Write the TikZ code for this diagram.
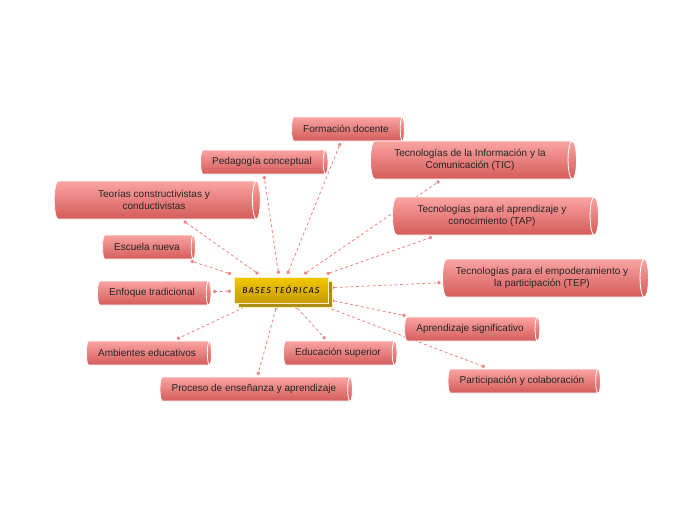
\documentclass[tikz,border=0pt]{standalone}
\usepackage{fontspec}
\setmainfont{Liberation Sans}
\newfontfamily\titlefont[LetterSpace=14]{Fira Sans}
\usetikzlibrary{shapes.geometric,shadows,backgrounds,arrows.meta}

\definecolor{tubetop}{RGB}{250,164,162}
\definecolor{tubebottom}{RGB}{212,92,90}
\definecolor{linkred}{RGB}{242,128,128}
\definecolor{goldtop}{RGB}{244,200,0}
\definecolor{goldbottom}{RGB}{198,156,0}
\definecolor{goldshadow}{RGB}{172,142,18}
\definecolor{cream}{RGB}{250,242,190}

\tikzset{
  topic/.style={cylinder, shape aspect=0.3, draw=white, line width=0.8pt,
    top color=tubetop, bottom color=tubebottom, minimum width=24pt,
    inner xsep=11pt, outer sep=2pt, text=black!85,
    font=\fontsize{10}{12}\selectfont},
  widetopic/.style={topic, minimum width=38pt, minimum height=206pt, align=center},
  root/.style={rectangle, draw=cream, line width=0.8pt, top color=goldtop,
    bottom color=goldbottom, minimum width=94pt, minimum height=26pt, outer sep=3pt,
    drop shadow={shadow xshift=4pt, shadow yshift=-4pt, fill=goldshadow,
      draw=cream, opacity=1},
    font=\titlefont\itshape\fontsize{8.6}{10}\selectfont},
  link/.style={draw=linkred, line width=0.8pt, dash pattern=on 3pt off 2.5pt,
    {Circle[length=3.5pt]}-{Circle[length=3.5pt]}}
}

\begin{document}
\begin{tikzpicture}[x=1pt, y=-1pt]
  \useasboundingbox (0,0) rectangle (697,520);

  % central idea
  \node[root] (bases) at (281,290) {BASES TEÓRICAS};

  % topics, top to bottom
  \node[topic] (formacion) at (346,129) {Formación docente};
  \node[topic] (pedagogia) at (262,162) {Pedagogía conceptual};
  \node[widetopic] (tic) at (470,160) {Tecnologías de la Información y la\\Comunicación (TIC)};
  \node[widetopic] (teorias) at (154,200) {Teorías constructivistas y\\conductivistas};
  \node[widetopic] (tap) at (492,216) {Tecnologías para el aprendizaje y\\conocimiento (TAP)};
  \node[topic] (escuela) at (147,247) {Escuela nueva};
  \node[widetopic] (tep) at (542,278) {Tecnologías para el empoderamiento y\\la participación (TEP)};
  \node[topic] (enfoque) at (152,293) {Enfoque tradicional};
  \node[topic] (aprendizaje) at (470,329) {Aprendizaje significativo};
  \node[topic] (ambientes) at (147,353) {Ambientes educativos};
  \node[topic] (educacion) at (338,353) {Educación superior};
  \node[topic] (participacion) at (522,381) {Participación y colaboración};
  \node[topic] (proceso) at (254,389) {Proceso de enseñanza y aprendizaje};

  % connectors behind the tubes
  \begin{scope}[on background layer]
    \foreach \t in {formacion,pedagogia,tic,teorias,tap,escuela,tep,enfoque,
                    aprendizaje,ambientes,educacion,participacion,proceso}
      \draw[link] (bases) -- (\t);
  \end{scope}
\end{tikzpicture}
\end{document}
